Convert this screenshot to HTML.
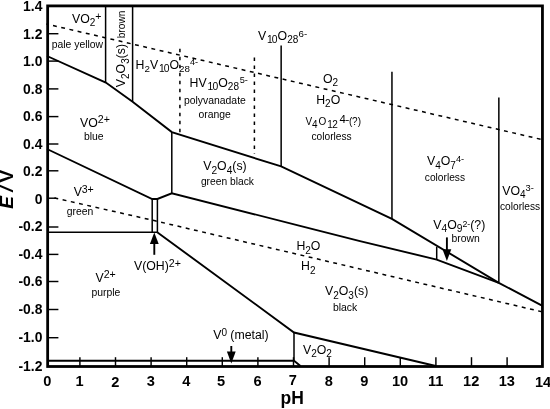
<!DOCTYPE html>
<html><head><meta charset="utf-8"><title>Vanadium Pourbaix diagram</title>
<style>
html,body{margin:0;padding:0;background:#fff;}
svg{display:block;font-family:"Liberation Sans",sans-serif;fill:#000;}
.l{stroke:#000;stroke-width:1.9;fill:none;stroke-linejoin:miter;}
.v{stroke:#000;stroke-width:1.5;fill:none;}
.d{stroke:#000;stroke-width:1.5;fill:none;stroke-dasharray:3.9 4.52;}
.t{stroke:#000;stroke-width:1.45;fill:none;}
.b{font-weight:bold;font-size:13.9px;}
.f{font-size:12.3px;}
.s{font-size:10.4px;}
.u{font-size:9.6px;}
.p{font-size:10.4px;}
</style></head><body>
<svg width="550" height="409" viewBox="0 0 550 409">
<rect width="550" height="409" fill="#fff"/>

<line class="t" x1="47.6" y1="33.7" x2="58.4" y2="33.7"/>
<line class="t" x1="47.6" y1="61.1" x2="58.4" y2="61.1"/>
<line class="t" x1="47.6" y1="88.9" x2="58.4" y2="88.9"/>
<line class="t" x1="47.6" y1="116.6" x2="58.4" y2="116.6"/>
<line class="t" x1="47.6" y1="144.0" x2="58.4" y2="144.0"/>
<line class="t" x1="47.6" y1="170.8" x2="58.4" y2="170.8"/>
<line class="t" x1="47.6" y1="198.2" x2="56.1" y2="198.2"/>
<line class="t" x1="47.6" y1="227.0" x2="58.4" y2="227.0"/>
<line class="t" x1="47.6" y1="254.4" x2="58.4" y2="254.4"/>
<line class="t" x1="47.6" y1="281.5" x2="58.4" y2="281.5"/>
<line class="t" x1="47.6" y1="309.5" x2="58.4" y2="309.5"/>
<line class="t" x1="47.6" y1="337.7" x2="58.4" y2="337.7"/>
<line class="t" x1="79.9" y1="366" x2="79.9" y2="357.2"/>
<line class="t" x1="115.5" y1="366" x2="115.5" y2="357.2"/>
<line class="t" x1="151.1" y1="366" x2="151.1" y2="357.2"/>
<line class="t" x1="186.7" y1="366" x2="186.7" y2="357.2"/>
<line class="t" x1="222.3" y1="366" x2="222.3" y2="357.2"/>
<line class="t" x1="257.9" y1="366" x2="257.9" y2="357.2"/>
<line class="t" x1="293.5" y1="366" x2="293.5" y2="357.2"/>
<line class="t" x1="329.1" y1="366" x2="329.1" y2="357.2"/>
<line class="t" x1="364.7" y1="366" x2="364.7" y2="357.2"/>
<line class="t" x1="400.3" y1="366" x2="400.3" y2="357.2"/>
<line class="t" x1="435.9" y1="366" x2="435.9" y2="357.2"/>
<line class="t" x1="471.5" y1="366" x2="471.5" y2="357.2"/>
<line class="t" x1="507.1" y1="366" x2="507.1" y2="357.2"/>
<line class="d" x1="46.4" y1="24.0" x2="542.5" y2="139.7" stroke-dashoffset="1.64"/>
<polyline class="d" points="54.4,197.9 155,220.8 542.5,311.9"/>
<line class="d" x1="179.9" y1="48.8" x2="179.9" y2="134" style="stroke-dasharray:3.5 4.5"/>
<line class="d" x1="254.4" y1="57.4" x2="254.4" y2="154" style="stroke-dasharray:3.5 4.5"/>
<polyline class="l" points="47,56 105.8,82.6 132.6,101.7 171.8,132.1 281.15,166.4 391.9,218.9 498.8,282.8 542.5,305.9"/>
<line class="v" x1="105.6" y1="5" x2="105.6" y2="82.5"/>
<line class="v" x1="132.6" y1="5" x2="132.6" y2="101.7"/>
<line class="v" x1="171.8" y1="132.1" x2="171.8" y2="193.5"/>
<polyline class="l" points="47,149 152.2,199 157.4,199 171.8,193.3 300,225.8 360,241.1 436.7,259.6 498.8,282.8"/>
<line class="v" x1="152.2" y1="199" x2="152.2" y2="232.3"/>
<line class="v" x1="157.4" y1="199" x2="157.4" y2="232.3"/>
<line class="v" x1="47" y1="232.3" x2="157.4" y2="232.3"/>
<polyline class="l" points="157.2,232.2 294,332.5 435.8,366"/>
<line class="v" x1="294" y1="332.5" x2="294" y2="360.7"/>
<polyline class="l" points="47,360.7 294,360.7 300.5,366"/>
<line class="v" x1="281.15" y1="45.4" x2="281.15" y2="166.4"/>
<line class="v" x1="391.95" y1="71.8" x2="391.95" y2="218.9"/>
<line class="v" x1="498.85" y1="97.5" x2="498.85" y2="282.8"/>
<line class="v" x1="436.7" y1="246.8" x2="436.7" y2="259.6"/>
<line class="l" x1="154.3" y1="254.8" x2="154.3" y2="242"/><polygon points="154.3,232.6 149.9,244 158.7,244"/>
<line class="l" x1="446.9" y1="237.4" x2="446.9" y2="251"/><polygon points="446.9,261 442.5,249.3 451.3,249.3"/>
<line class="l" x1="231.3" y1="346" x2="231.3" y2="353"/><polygon points="231.3,363.6 226.9,351.6 235.7,351.6"/>
<rect x="47.65" y="5.9" width="494.8" height="360.6" fill="none" stroke="#000" stroke-width="2.8"/>
<text class="b" x="42.4" y="10.7" text-anchor="end">1.4</text>
<text class="b" x="42.4" y="38.8" text-anchor="end">1.2</text>
<text class="b" x="42.4" y="66.4" text-anchor="end">1.0</text>
<text class="b" x="42.4" y="94.1" text-anchor="end">0.8</text>
<text class="b" x="42.4" y="121.4" text-anchor="end">0.6</text>
<text class="b" x="42.4" y="148.5" text-anchor="end">0.4</text>
<text class="b" x="42.4" y="175.6" text-anchor="end">0.2</text>
<text class="b" x="42.4" y="203.7" text-anchor="end">0</text>
<text class="b" x="42.4" y="231.2" text-anchor="end">-0.2</text>
<text class="b" x="42.4" y="259.1" text-anchor="end">-0.4</text>
<text class="b" x="42.4" y="286.4" text-anchor="end">-0.6</text>
<text class="b" x="42.4" y="314.0" text-anchor="end">-0.8</text>
<text class="b" x="42.4" y="342.4" text-anchor="end">-1.0</text>
<text class="b" x="42.4" y="370.5" text-anchor="end">-1.2</text>
<text class="b" style="font-size:14.6px" x="47.3" y="385.7" text-anchor="middle">0</text>
<text class="b" style="font-size:14.6px" x="79.6" y="385.7" text-anchor="middle">1</text>
<text class="b" style="font-size:14.6px" x="115.2" y="386.5" text-anchor="middle">2</text>
<text class="b" style="font-size:14.6px" x="150.8" y="385.7" text-anchor="middle">3</text>
<text class="b" style="font-size:14.6px" x="186.4" y="385.7" text-anchor="middle">4</text>
<text class="b" style="font-size:14.6px" x="221.0" y="385.7" text-anchor="middle">5</text>
<text class="b" style="font-size:14.6px" x="257.6" y="385.7" text-anchor="middle">6</text>
<text class="b" style="font-size:14.6px" x="292.7" y="384.7" text-anchor="middle">7</text>
<text class="b" style="font-size:14.6px" x="328.8" y="385.7" text-anchor="middle">8</text>
<text class="b" style="font-size:14.6px" x="364.4" y="385.7" text-anchor="middle">9</text>
<text class="b" style="font-size:14.6px" x="400.0" y="385.7" text-anchor="middle">10</text>
<text class="b" style="font-size:14.6px" x="435.6" y="385.7" text-anchor="middle">11</text>
<text class="b" style="font-size:14.6px" x="471.2" y="385.7" text-anchor="middle">12</text>
<text class="b" style="font-size:14.6px" x="506.8" y="385.7" text-anchor="middle">13</text>
<text class="b" style="font-size:14.6px" x="543.1" y="386.6" text-anchor="middle">14</text>
<text x="280.6" y="404" style="font-weight:bold;font-size:17.5px">pH</text>
<text transform="translate(13.4,208.8) rotate(-90)" style="font-weight:bold;font-size:19px"><tspan x="0" font-style="italic">E</tspan><tspan x="17" font-style="italic">/</tspan><tspan x="26.3">V</tspan></text>
<text id="t1" class="f" x="72.00" y="22.9" letter-spacing="0.000" >VO<tspan style="font-size:10.0px" dx="0" dy="3.3">2</tspan><tspan dy="-3.3" font-size="1">&#8203;</tspan><tspan style="font-size:10.5px" dx="0" dy="-3.2">+</tspan><tspan dy="3.2" font-size="1">&#8203;</tspan></text>
<text id="t2" class="s" x="51.70" y="48.0" letter-spacing="0.000" >pale yellow</text>
<text class="f" transform="translate(124.7,87.2) rotate(-90)">V<tspan style="font-size:10px" dx="0" dy="3.8">2</tspan><tspan dy="-3.8" font-size="1">&#8203;</tspan>O<tspan style="font-size:10px" dx="0" dy="3.8">3</tspan><tspan dy="-3.8" font-size="1">&#8203;</tspan>(s) <tspan class="s" dx="2.2" style="font-size:10.2px">brown</tspan></text>
<text id="t3" class="f" x="135.60" y="68.5" letter-spacing="0.000" >H<tspan style="font-size:9.8px" dx="0" dy="3.3">2</tspan><tspan dy="-3.3" font-size="1">&#8203;</tspan>V<tspan style="font-size:10.3px" dx="0.8" dy="3.3"><tspan style="letter-spacing:-1.0px">1</tspan>0</tspan><tspan dy="-3.3" font-size="1">&#8203;</tspan>O<tspan style="font-size:9.8px" dx="0" dy="3.3">28</tspan><tspan dy="-3.3" font-size="1">&#8203;</tspan><tspan style="font-size:9.2px" dx="0" dy="-3.5">4-</tspan><tspan dy="3.5" font-size="1">&#8203;</tspan></text>
<text id="t4" class="f" x="189.50" y="86.7" letter-spacing="0.000" >HV<tspan style="font-size:10.3px" dx="1.0" dy="3.6"><tspan style="letter-spacing:-0.8px">1</tspan>0</tspan><tspan dy="-3.6" font-size="1">&#8203;</tspan>O<tspan style="font-size:10px" dx="0" dy="3.6">28</tspan><tspan dy="-3.6" font-size="1">&#8203;</tspan><tspan style="font-size:9.2px" dx="0.7" dy="-3.7">5-</tspan><tspan dy="3.7" font-size="1">&#8203;</tspan></text>
<text id="t5" class="s" x="184.00" y="103.5" letter-spacing="0.000" >polyvanadate</text>
<text id="t6" class="s" x="198.50" y="117.5" letter-spacing="0.000" >orange</text>
<text id="t7" class="f" x="258.10" y="40" letter-spacing="0.000" >V<tspan style="font-size:10.3px" dx="0.8" dy="3.0"><tspan style="letter-spacing:-1.0px">1</tspan>0</tspan><tspan dy="-3.0" font-size="1">&#8203;</tspan>O<tspan style="font-size:10px" dx="0" dy="3.0">28</tspan><tspan dy="-3.0" font-size="1">&#8203;</tspan><tspan style="font-size:9.7px" dx="0.3" dy="-3.3">6-</tspan><tspan dy="3.3" font-size="1">&#8203;</tspan></text>
<text id="t8" class="f" x="323.00" y="82.6" letter-spacing="0.000" >O<tspan style="font-size:10.0px" dx="0" dy="3.3">2</tspan><tspan dy="-3.3" font-size="1">&#8203;</tspan></text>
<text id="t9" class="f" x="316.20" y="103.5" letter-spacing="0.000" >H<tspan style="font-size:10.0px" dx="0" dy="3.3">2</tspan><tspan dy="-3.3" font-size="1">&#8203;</tspan>O</text>
<text id="t10" y="125.3" style="font-size:10px"><tspan x="305.4">V</tspan><tspan x="311.9" dy="3.1" style="font-size:10px">4</tspan><tspan x="318.4" dy="-3.1">O</tspan><tspan x="327.3" dy="3.1" style="font-size:10px">1</tspan><tspan x="332.2" style="font-size:10px">2</tspan><tspan x="339.4" dy="-5.2" style="font-size:11.4px">4</tspan><tspan x="345.4" style="font-size:11.4px">-</tspan><tspan x="349" dy="2.1" style="font-size:10px">(</tspan><tspan x="352" style="font-size:10px">?</tspan><tspan x="357.7" style="font-size:10px">)</tspan></text>
<text id="t11" class="s" x="311.50" y="139.8" letter-spacing="0.000" style="font-size:10.2px">colorless</text>
<text id="t12" class="f" x="427.00" y="165.3" letter-spacing="0.000" >V<tspan style="font-size:10.0px" dx="0" dy="3.3">4</tspan><tspan dy="-3.3" font-size="1">&#8203;</tspan>O<tspan style="font-size:10.0px" dx="0" dy="3.3">7</tspan><tspan dy="-3.3" font-size="1">&#8203;</tspan><tspan style="font-size:9.3px" dx="0" dy="-3.5">4-</tspan><tspan dy="3.5" font-size="1">&#8203;</tspan></text>
<text id="t13" class="s" x="424.80" y="180.5" letter-spacing="0.000" style="font-size:10.2px">colorless</text>
<text id="t14" class="f" x="502.20" y="194.7" letter-spacing="0.000" >VO<tspan style="font-size:10.0px" dx="0" dy="3.3">4</tspan><tspan dy="-3.3" font-size="1">&#8203;</tspan><tspan style="font-size:9.3px" dx="0" dy="-3.5">3-</tspan><tspan dy="3.5" font-size="1">&#8203;</tspan></text>
<text id="t15" class="s" x="500.00" y="210" letter-spacing="0.000" style="font-size:10.2px">colorless</text>
<text id="t16" class="f" x="433.20" y="229.0" letter-spacing="0.000" >V<tspan style="font-size:10.3px" dx="0" dy="3.3">4</tspan><tspan dy="-3.3" font-size="1">&#8203;</tspan>O<tspan style="font-size:10.3px" dx="0" dy="3.3">9</tspan><tspan dy="-3.3" font-size="1">&#8203;</tspan><tspan style="font-size:8.8px" dx="0" dy="-2.3">2-</tspan><tspan dy="2.3" font-size="1">&#8203;</tspan>(?)</text>
<text id="t17" class="s" x="451.60" y="242" letter-spacing="0.000" >brown</text>
<text id="t18" class="f" x="80.00" y="126.5" letter-spacing="0.000" >VO<tspan style="font-size:10.6px" dx="0" dy="-3.5">2+</tspan><tspan dy="3.5" font-size="1">&#8203;</tspan></text>
<text id="t19" class="s" x="84.00" y="139.6" letter-spacing="0.000" >blue</text>
<text id="t20" class="f" x="203.20" y="169.8" letter-spacing="0.000" >V<tspan style="font-size:10.2px" dx="0" dy="3.8">2</tspan><tspan dy="-3.8" font-size="1">&#8203;</tspan>O<tspan style="font-size:10.2px" dx="0" dy="3.8">4</tspan><tspan dy="-3.8" font-size="1">&#8203;</tspan>(s)</text>
<text id="t21" class="s" x="200.90" y="185.0" letter-spacing="0.000" style="font-size:10.25px">green black</text>
<text id="t22" class="f" x="73.80" y="195.6" letter-spacing="0.000" >V<tspan style="font-size:10.6px" dx="-0.3" dy="-2.7">3+</tspan><tspan dy="2.7" font-size="1">&#8203;</tspan></text>
<text id="t23" class="s" x="66.80" y="214.8" letter-spacing="0.000" >green</text>
<text id="t24" class="f" x="134.00" y="270" letter-spacing="0.000" >V(OH)<tspan style="font-size:10.6px" dx="0" dy="-3.5">2+</tspan><tspan dy="3.5" font-size="1">&#8203;</tspan></text>
<text id="t25" class="f" x="95.50" y="281.7" letter-spacing="0.000" >V<tspan style="font-size:10.6px" dx="0" dy="-3.5">2+</tspan><tspan dy="3.5" font-size="1">&#8203;</tspan></text>
<text id="t26" class="s" x="91.50" y="295.5" letter-spacing="0.000" >purple</text>
<text id="t27" class="f" x="213.20" y="339" letter-spacing="0.000" >V<tspan style="font-size:10.0px" dx="0" dy="-3.5">0</tspan><tspan dy="3.5" font-size="1">&#8203;</tspan> (metal)</text>
<text id="t28" class="f" x="303.00" y="353.6" letter-spacing="0.000" >V<tspan style="font-size:10.0px" dx="0" dy="3.3">2</tspan><tspan dy="-3.3" font-size="1">&#8203;</tspan>O<tspan style="font-size:10.0px" dx="0" dy="3.3">2</tspan><tspan dy="-3.3" font-size="1">&#8203;</tspan></text>
<text id="t29" class="f" x="296.40" y="250.1" letter-spacing="0.000" >H<tspan style="font-size:10px" dx="0" dy="3.8">2</tspan><tspan dy="-3.8" font-size="1">&#8203;</tspan>O</text>
<text id="t30" class="f" x="301.10" y="270.4" letter-spacing="0.000" >H<tspan style="font-size:10px" dx="0" dy="3.8">2</tspan><tspan dy="-3.8" font-size="1">&#8203;</tspan></text>
<text id="t31" class="f" x="325.00" y="294.8" letter-spacing="0.000" >V<tspan style="font-size:10px" dx="0" dy="3.8">2</tspan><tspan dy="-3.8" font-size="1">&#8203;</tspan>O<tspan style="font-size:10px" dx="0" dy="3.8">3</tspan><tspan dy="-3.8" font-size="1">&#8203;</tspan>(s)</text>
<text id="t32" class="s" x="333.00" y="310.5" letter-spacing="0.000" >black</text>
</svg></body></html>
